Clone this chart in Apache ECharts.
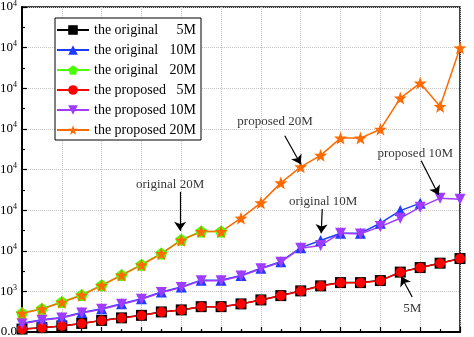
<!DOCTYPE html>
<html>
<head>
<meta charset="utf-8">
<script src="https://cdn.jsdelivr.net/npm/echarts@6/dist/echarts.min.js"></script>
<style>
html, body { margin: 0; padding: 0; background: #fff; }
#chart { width: 474px; height: 337px; }
</style>
</head>
<body>
<div id="chart"></div>
<script>
// x positions of the measurements
const steps = [0, 1, 2, 3, 4, 5, 6, 7, 8, 9, 10, 11, 12, 13, 14, 15, 16, 17, 18, 19, 20, 21, 22];

// Original method
const original5M  = [360, 530, 750, 1060, 1430, 1740, 2050, 2470, 2720, 3120, 3120, 3460, 3950, 4480, 5060, 5680, 6080, 6080, 6330, 7370, 7930, 8470, 9040];
const original10M = [1080, 1500, 1790, 2400, 2860, 3480, 4100, 4930, 5550, 6380, 6380, 6950, 7850, 8650, 10380, 11270, 12160, 12160, 13390, 14940, 15860];
const original20M = [2330, 2860, 3690, 4550, 5760, 7010, 8280, 9660, 11350, 12380, 12380];

// Proposed method
const proposed5M  = [345, 517, 739, 1047, 1417, 1725, 2033, 2464, 2710, 3117, 3117, 3450, 3942, 4472, 5051, 5667, 6074, 6074, 6320, 7355, 7922, 8464, 9031];
const proposed10M = [1023, 1441, 1725, 2341, 2797, 3425, 4041, 4866, 5482, 6320, 6320, 6899, 7786, 8587, 10312, 10657, 12160, 12074, 12973, 14008, 15363, 16472, 16349];
const proposed20M = [2304, 2834, 3659, 4521, 5729, 6985, 8254, 9634, 11300, 12357, 12357, 14008, 15893, 18357, 20328, 21745, 23864, 23864, 24948, 28792, 30640, 27757, 34952];

const seriesNames = [
  'the original 5M', 'the original 10M', 'the original 20M',
  'the proposed 5M', 'the proposed 10M', 'the proposed 20M'
];

// y-axis tick labels: 0.0, 5.0x10^3, 1.0x10^4 ...
function yLabel(v) {
  if (v === 0) return '{m|0.0}';
  const e = Math.floor(Math.log10(v));
  const m = (v / Math.pow(10, e)).toFixed(1);
  return '{m|' + m + '\u00d710}{s|' + e + '}';
}

const pairs = vals => vals.map((v, i) => [steps[i], v]);

const PENTAGON = 'path://M0,-10 L9.51,-3.09 L5.88,8.09 L-5.88,8.09 L-9.51,-3.09 Z';
const STAR = 'path://M0,-10 L2.35,-3.24 L9.51,-3.09 L3.8,1.24 L5.88,8.09 L0,4 L-5.88,8.09 L-3.8,1.24 L-9.51,-3.09 L-2.35,-3.24 Z';
const DOWN_TRIANGLE = 'path://M-5,-4.3 L5,-4.3 L0,4.3 Z';

const FONT = '"Liberation Serif", "Times New Roman", serif';

function lineSeries(name, vals, color, symbol, size) {
  return {
    name: name,
    type: 'line',
    data: pairs(vals),
    symbol: symbol,
    symbolSize: size,
    showSymbol: true,
    lineStyle: { color: color, width: 1.5 },
    itemStyle: { color: color, borderWidth: 0 },
    animation: false,
    z: 3
  };
}

// Callout texts and their arrows, in data coordinates
const notes = [
  { text: 'original 20M',  at: [7.44, 18100],  from: [7.94, 17250],  to: [7.94, 12450] },
  { text: 'proposed 20M',  at: [12.71, 25870], from: [13.2, 24150],  to: [14.0, 20650] },
  { text: 'original 10M',  at: [15.13, 16020], from: [15.08, 15150], to: [15.03, 12150] },
  { text: 'proposed 10M',  at: [19.75, 21930], from: [20.05, 21070], to: [20.93, 16850] },
  { text: '5M',            at: [19.6, 2830],   from: [19.6, 4310],   to: [19.05, 6800] }
];

const chart = echarts.init(document.getElementById('chart'), null, { renderer: 'canvas' });

chart.setOption({
  backgroundColor: '#ffffff',
  animation: false,
  textStyle: { fontFamily: FONT },
  grid: {
    left: 22, right: 14, top: 7, bottom: 5,
    show: true, borderColor: '#000', borderWidth: 1.5,
    containLabel: false,
    outerBoundsMode: 'none'
  },
  xAxis: {
    type: 'value',
    min: 0, max: 22, interval: 2,
    axisLine: { show: true, lineStyle: { color: '#000', width: 2 } },
    axisTick: { show: true, inside: true, length: 5, lineStyle: { color: '#000', width: 1.2 } },
    minorTick: { show: true, splitNumber: 2, length: 3, lineStyle: { color: '#000', width: 1.2 } },
    axisLabel: { show: false },
    splitLine: { show: true, lineStyle: { color: '#c4c4c4', type: 'dotted', width: 1 } }
  },
  yAxis: {
    type: 'value',
    min: 0, max: 40000, interval: 5000,
    axisLine: { show: true, lineStyle: { color: '#000', width: 2 } },
    axisTick: { show: true, inside: true, length: 5, lineStyle: { color: '#000', width: 1.2 } },
    minorTick: { show: true, splitNumber: 2, length: 3, lineStyle: { color: '#000', width: 1.2 } },
    axisLabel: {
      margin: 5,
      formatter: yLabel,
      rich: {
        m: { fontFamily: FONT, fontSize: 13, color: '#000' },
        s: { fontFamily: FONT, fontSize: 8, color: '#000', padding: [0, 0, 7, 0] }
      }
    },
    splitLine: { show: true, lineStyle: { color: '#c4c4c4', type: 'dotted', width: 1 } }
  },
  legend: {
    data: seriesNames,
    orient: 'vertical',
    left: 55, top: 18,
    padding: [5, 5, 3, 1],
    itemGap: 6,
    itemWidth: 32,
    itemHeight: 12,
    backgroundColor: '#fff',
    borderColor: '#000',
    borderWidth: 1,
    borderRadius: 0,
    formatter: function (name) {
      const k = name.lastIndexOf(' ');
      return '{a|' + name.slice(0, k) + '}{b|' + name.slice(k + 1) + '}';
    },
    textStyle: {
      rich: {
        a: { fontFamily: FONT, fontSize: 14, color: '#000', width: 74 },
        b: { fontFamily: FONT, fontSize: 14, color: '#000', width: 28, align: 'right' }
      }
    }
  },
  series: [
    lineSeries(seriesNames[0], original5M,  '#000000', 'rect', 11),
    lineSeries(seriesNames[1], original10M, '#1e3cff', 'triangle', 11),
    lineSeries(seriesNames[2], original20M, '#4cff00', PENTAGON, 12),
    lineSeries(seriesNames[3], proposed5M,  '#ff0000', 'circle', 10),
    lineSeries(seriesNames[4], proposed10M, '#a03cff', DOWN_TRIANGLE, 11),
    lineSeries(seriesNames[5], proposed20M, '#ff6a00', STAR, 13),
    {
      name: 'notes',
      type: 'scatter',
      symbolSize: 0,
      animation: false,
      z: 5,
      data: notes.map(n => ({ value: n.at, name: n.text })),
      label: {
        show: true,
        position: 'inside',
        formatter: '{b}',
        fontFamily: FONT,
        fontSize: 13,
        color: '#000'
      },
      markLine: {
        silent: true,
        animation: false,
        symbol: ['none', 'arrow'],
        symbolSize: 9,
        label: { show: false },
        lineStyle: { color: '#000', width: 1.2, type: 'solid' },
        itemStyle: { color: '#000' },
        data: notes.map(n => [{ coord: n.from }, { coord: n.to }])
      }
    }
  ]
});
</script>
</body>
</html>
